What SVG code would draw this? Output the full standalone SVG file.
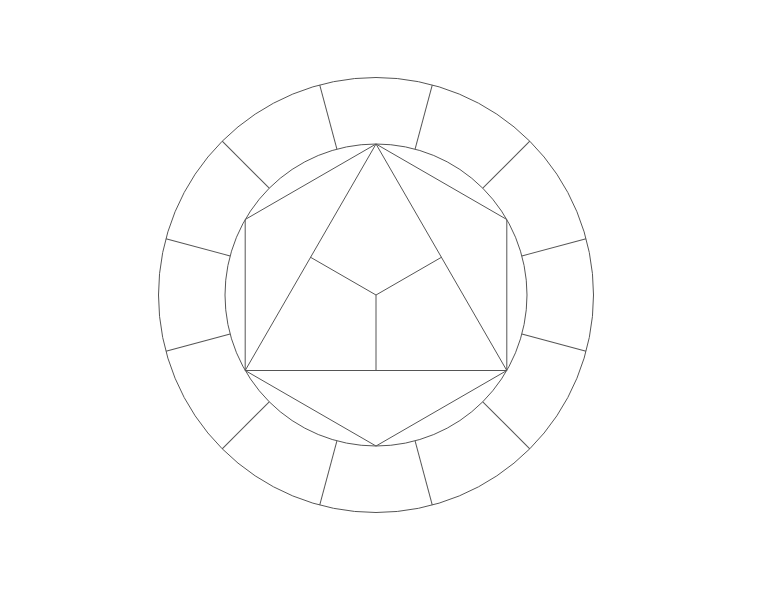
<svg xmlns="http://www.w3.org/2000/svg" width="768" height="594" viewBox="0 0 768 594">
<style>
.l{fill:none;stroke:#555;stroke-width:1}
</style>
<rect width="768" height="594" fill="#fff"/>
<g id="ring" class="l">
<circle cx="376" cy="295" r="217.5"/>
<circle cx="376" cy="295" r="151"/>
</g>
<g id="connectors" class="l">
<g id="spokes" transform="translate(376,295)">
<line x1="0" y1="-151" x2="0" y2="-217.5" transform="rotate(15)"/>
<line x1="0" y1="-151" x2="0" y2="-217.5" transform="rotate(45)"/>
<line x1="0" y1="-151" x2="0" y2="-217.5" transform="rotate(75)"/>
<line x1="0" y1="-151" x2="0" y2="-217.5" transform="rotate(105)"/>
<line x1="0" y1="-151" x2="0" y2="-217.5" transform="rotate(135)"/>
<line x1="0" y1="-151" x2="0" y2="-217.5" transform="rotate(165)"/>
<line x1="0" y1="-151" x2="0" y2="-217.5" transform="rotate(195)"/>
<line x1="0" y1="-151" x2="0" y2="-217.5" transform="rotate(225)"/>
<line x1="0" y1="-151" x2="0" y2="-217.5" transform="rotate(255)"/>
<line x1="0" y1="-151" x2="0" y2="-217.5" transform="rotate(285)"/>
<line x1="0" y1="-151" x2="0" y2="-217.5" transform="rotate(315)"/>
<line x1="0" y1="-151" x2="0" y2="-217.5" transform="rotate(345)"/>
</g>
<polygon id="hexagon" points="376,144 506.8,219.5 506.8,370.5 376,446 245.2,370.5 245.2,219.5"/>
<polygon id="triangle" points="376,144 506.8,370.5 245.2,370.5"/>
<polyline id="y" points="310.6,257.3 376,295 441.4,257.3"/>
<line x1="376" y1="295" x2="376" y2="370.5"/>
</g>
</svg>
